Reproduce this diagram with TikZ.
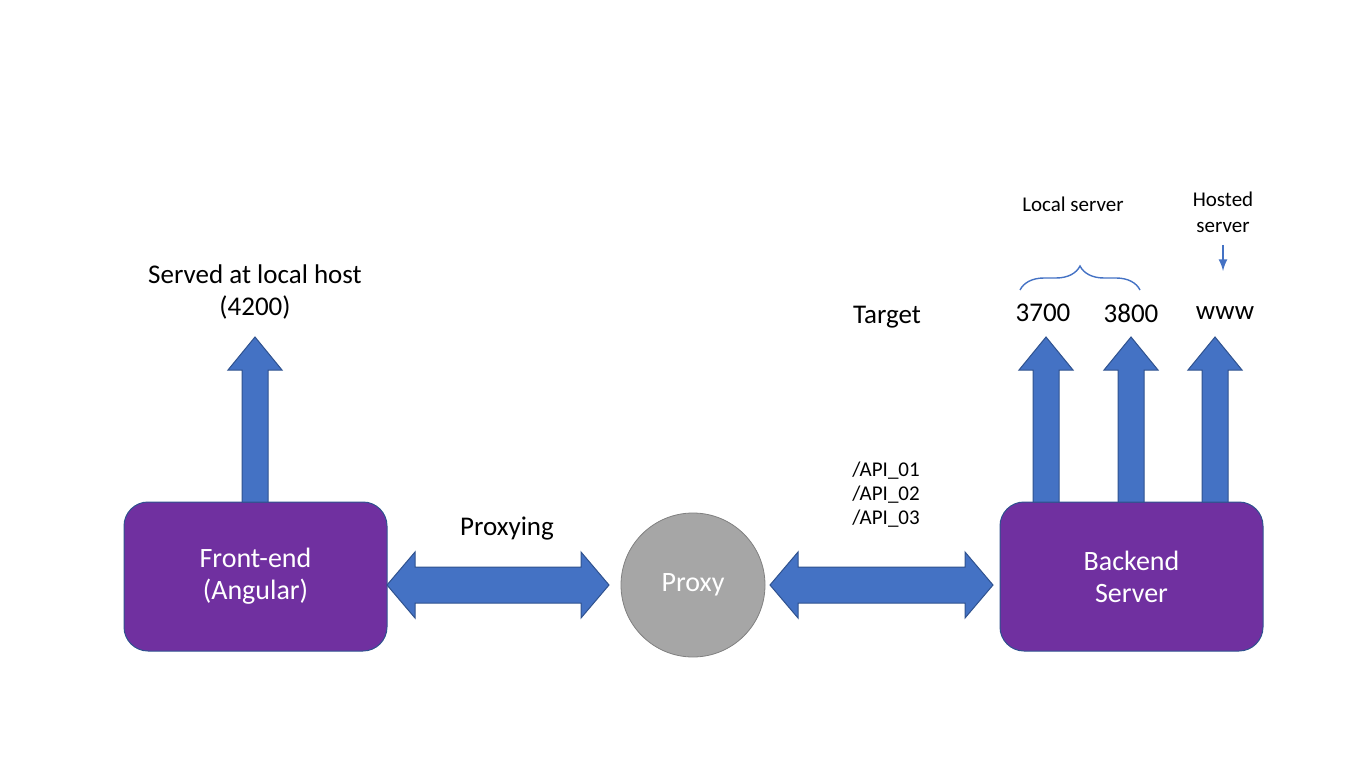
\documentclass[tikz,border=0pt]{standalone}
\usepackage{fontspec}
\setmainfont{Carlito}
\usetikzlibrary{decorations.pathreplacing}
\definecolor{pur}{HTML}{7030A0}
\definecolor{blu}{HTML}{4472C4}
\definecolor{bld}{HTML}{2F528F}
\definecolor{gr}{HTML}{A6A6A6}
\begin{document}
\begin{tikzpicture}[x=0.5pt,y=-0.5pt,
 box/.style={draw=bld,fill=pur,rounded corners=12pt,minimum width=131.5pt,minimum height=74.5pt,text=white,align=center,font=\fontsize{14}{16}\selectfont,line width=0.5pt},
 fat/.style={fill=blu,draw=bld,line width=0.5pt},
 lbl/.style={font=\fontsize{13.5}{16}\selectfont,align=center},
 sm/.style={font=\fontsize{10.5}{13}\selectfont,align=center}]
\useasboundingbox (0,0) rectangle (1358,764);
\node[box] (fe) at (255.5,576.5) {Front-end\\(Angular)};
\node[box] (be) at (1131.5,576.5) {Backend\\Server};
\node[circle,draw=gray,fill=gr,minimum size=72pt,text=white,font=\fontsize{14}{16}\selectfont] (px) at (693,585) {Proxy};
% up arrows
\foreach \c in {255,1046,1131,1215}
 \path[fat] (\c-13,502) -- (\c-13,370) -- (\c-27,370) -- (\c,337) -- (\c+27,370) -- (\c+13,370) -- (\c+13,502) -- cycle;
% double arrows
\foreach \a/\b in {387/609,770/993}
 \path[fat] (\a,585) -- (\a+28,552) -- (\a+28,567) -- (\b-28,567) -- (\b-28,552) -- (\b,585) -- (\b-28,618) -- (\b-28,603) -- (\a+28,603) -- (\a+28,618) -- cycle;
\node[lbl] at (255,292) {Served at local host\\(4200)};
\node[lbl] at (507,529) {Proxying};
\node[lbl] at (887,317) {Target};
\node[lbl] at (1043,313) {3700};
\node[lbl] at (1131,313) {3800};
\node[lbl] at (1225,313) {www};
\node[sm] at (1073,204) {Local server};
\node[sm] at (1223,212) {Hosted\\server};
\node[sm,align=left] at (886,495) {/API\_01\\[-1pt]/API\_02\\[-1pt]/API\_03};
\draw[blu,line width=0.7pt,decorate,decoration={brace,amplitude=12pt}] (1020,290) -- (1140,290);
\coordinate (h1) at (1223,245); \coordinate (h2) at (1223,271);
\draw[blu,line width=1pt,-{latex}] (h1) -- (h2);
\end{tikzpicture}
\end{document}
